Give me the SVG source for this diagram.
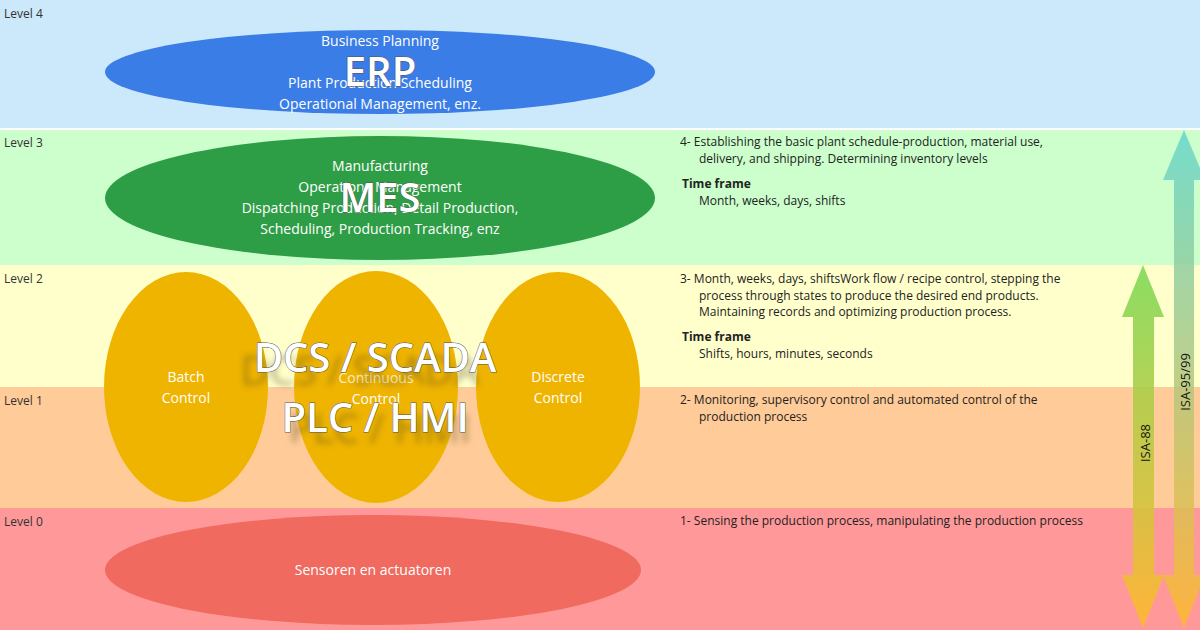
<svg xmlns="http://www.w3.org/2000/svg" width="1200" height="630" viewBox="0 0 1200 630">
<defs>
<style>
text{font-family:"Open Sans","Liberation Sans",sans-serif}
.lvl{font-size:12px;fill:#333}
.w{font-size:14px;fill:#fff;text-anchor:middle}
.big{font-size:40px;fill:#fff;font-weight:600;text-anchor:middle;stroke:#555;stroke-width:1;paint-order:stroke}
.d{font-size:12px;fill:#222}
.b{font-size:12px;fill:#222;font-weight:bold}
</style>
<linearGradient id="g88" x1="0" y1="0" x2="0" y2="1"><stop offset="0" stop-color="#7ed957"/><stop offset="1" stop-color="#ffb82e"/></linearGradient>
<linearGradient id="g95" x1="0" y1="0" x2="0" y2="1"><stop offset="0" stop-color="#66d6cc"/><stop offset="1" stop-color="#ffb82e"/></linearGradient>
<filter id="sh"><feGaussianBlur stdDeviation="3"/></filter>
</defs>
<rect x="0" y="0" width="1200" height="128" fill="#cce8fb"/>
<rect x="0" y="130" width="1200" height="135" fill="#ccffcc"/>
<rect x="0" y="265" width="1200" height="122" fill="#ffffcc"/>
<rect x="0" y="387" width="1200" height="121" fill="#ffcc99"/>
<rect x="0" y="508" width="1200" height="122" fill="#ff9999"/>
<text class="lvl" x="4" y="18">Level 4</text>
<text class="lvl" x="4" y="147">Level 3</text>
<text class="lvl" x="4" y="283">Level 2</text>
<text class="lvl" x="4" y="405">Level 1</text>
<text class="lvl" x="4" y="526">Level 0</text>
<g id="erp">
<ellipse cx="380" cy="72" rx="275" ry="42" fill="#3a7de6"/>
<text class="w" x="380" y="46">Business Planning</text>
<text class="w" x="380" y="88">Plant Production Scheduling</text>
<text class="w" x="380" y="109">Operational Management, enz.</text>
<text class="big" x="380" y="86">ERP</text>
</g>
<g id="mes">
<ellipse cx="380" cy="198" rx="275" ry="62" fill="#2e9e46"/>
<text class="w" x="380" y="171">Manufacturing</text>
<text class="w" x="380" y="192">Operations Management</text>
<text class="w" x="380" y="213">Dispatching Production, Detail Production,</text>
<text class="w" x="380" y="234">Scheduling, Production Tracking, enz</text>
<text class="big" x="380" y="212">MES</text>
</g>
<g id="batch"><ellipse cx="186" cy="387" rx="82" ry="115" fill="#efb400"/>
<text class="w" x="186" y="382">Batch</text><text class="w" x="186" y="403">Control</text></g>
<g id="continuous"><ellipse cx="376" cy="387" rx="82" ry="116" fill="#efb400"/>
<text class="w" x="376" y="383" fill-opacity="0.8">Continuous</text><text class="w" x="376" y="404">Control</text></g>
<g id="discrete"><ellipse cx="558" cy="387" rx="82" ry="115" fill="#efb400"/>
<text class="w" x="558" y="382">Discrete</text><text class="w" x="558" y="403">Control</text></g>
<g id="dcs">
<g filter="url(#sh)" opacity="0.5"><text x="360" y="385" font-size="40" fill="#5a4a20" text-anchor="middle" font-family="Open Sans">DCS / SCADA</text><text x="380" y="443" font-size="40" fill="#5a4a20" text-anchor="middle" font-family="Open Sans">PLC / HMI</text></g>
<text class="big" x="375" y="372">DCS / SCADA</text>
<text class="big" x="375" y="432">PLC / HMI</text>
</g>
<g id="sensors"><ellipse cx="373" cy="570" rx="268" ry="55" fill="#f06a60"/>
<text class="w" x="373" y="575">Sensoren en actuatoren</text></g>
<g id="desc">
<text class="d" x="680" y="146">4-  Establishing the basic plant schedule-production, material use,</text>
<text class="d" x="699" y="163">delivery, and shipping. Determining inventory levels</text>
<text class="b" x="682" y="188">Time frame</text>
<text class="d" x="699" y="205">Month, weeks, days, shifts</text>
<text class="d" x="680" y="283">3-  Month, weeks, days, shiftsWork flow / recipe control, stepping the</text>
<text class="d" x="699" y="300">process through states to produce the desired end products.</text>
<text class="d" x="699" y="316">Maintaining records and optimizing production process.</text>
<text class="b" x="682" y="341">Time frame</text>
<text class="d" x="699" y="358">Shifts, hours, minutes, seconds</text>
<text class="d" x="680" y="404">2-  Monitoring, supervisory control and automated control of the</text>
<text class="d" x="699" y="421">production process</text>
<text class="d" x="680" y="525">1-  Sensing the production process, manipulating the production process</text>
</g>
<g id="connectors">
<polygon points="1143,265 1164,317 1154,317 1154,575 1164,575 1143,628 1122,575 1133,575 1133,317 1122,317" fill="url(#g88)" opacity="0.9"/>
<polygon points="1184,130 1205,180 1194,180 1194,575 1205,575 1184,628 1163,575 1174,575 1174,180 1163,180" fill="url(#g95)" opacity="0.85"/>
<text x="1150" y="443" font-size="13" fill="#111" transform="rotate(-90 1150 443)" text-anchor="middle" font-family="Open Sans">ISA-88</text>
<text x="1190" y="382" font-size="13" fill="#111" transform="rotate(-90 1190 382)" text-anchor="middle" font-family="Open Sans">ISA-95/99</text>
</g>
</svg>
